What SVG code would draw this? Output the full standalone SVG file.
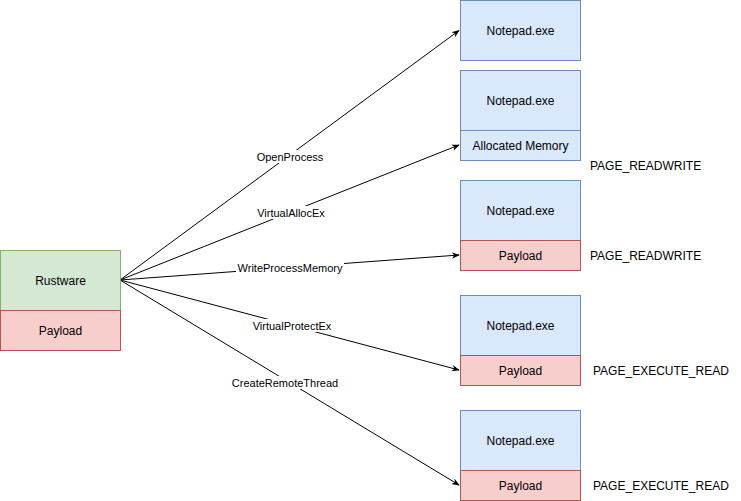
<svg xmlns="http://www.w3.org/2000/svg" width="741" height="501" viewBox="0 0 741 501">
<defs>
<style>
.blue{fill:#dae8fc;stroke:#6c8ebf;stroke-width:1}
.red{fill:#f8cecc;stroke:#b85450;stroke-width:1}
.green{fill:#d5e8d4;stroke:#82b366;stroke-width:1}
text{font-family:"Liberation Sans",Arial,Helvetica,sans-serif;fill:#000}
.n{font-size:12px;text-anchor:middle;dominant-baseline:central}
.l{font-size:11px;text-anchor:middle;dominant-baseline:central}
.p{font-size:12px;dominant-baseline:central}
.e{fill:none;stroke:#000;stroke-width:1}
.bg{fill:#fff}
</style>
<marker id="ah" viewBox="0 0 10 10" refX="9" refY="5" markerWidth="8" markerHeight="8" orient="auto" markerUnits="userSpaceOnUse">
<path d="M0,1 L10,5 L0,9 L3,5 Z" fill="#000"/>
</marker>
</defs>
<rect width="741" height="501" fill="#fff"/>
<g id="connectors">
<line class="e" x1="120" y1="280" x2="459" y2="30.5" marker-end="url(#ah)"/>
<line class="e" x1="120" y1="280" x2="459" y2="145" marker-end="url(#ah)"/>
<line class="e" x1="120" y1="280" x2="459" y2="255" marker-end="url(#ah)"/>
<line class="e" x1="120" y1="280" x2="459" y2="370" marker-end="url(#ah)"/>
<line class="e" x1="120" y1="280" x2="459" y2="485" marker-end="url(#ah)"/>
<rect class="bg" x="257" y="150" width="66" height="13"/>
<text class="l" x="290" y="156.5">OpenProcess</text>
<rect class="bg" x="256" y="206" width="70" height="13"/>
<text class="l" x="291" y="212.5">VirtualAllocEx</text>
<rect class="bg" x="236" y="261" width="108" height="13"/>
<text class="l" x="290" y="267.5">WriteProcessMemory</text>
<rect class="bg" x="251" y="319" width="82" height="13"/>
<text class="l" x="292" y="325.5">VirtualProtectEx</text>
<rect class="bg" x="236" y="376" width="98" height="13"/>
<text class="l" x="285" y="382.5">CreateRemoteThread</text>
</g>
<g id="rustware">
<rect class="green" x="0.5" y="250.5" width="120" height="60"/>
<text class="n" x="60.5" y="280.5">Rustware</text>
</g>
<g id="rustware-payload">
<rect class="red" x="0.5" y="310.5" width="120" height="40"/>
<text class="n" x="60.5" y="330.5">Payload</text>
</g>
<g id="notepad1">
<rect class="blue" x="460.5" y="0.5" width="120" height="60"/>
<text class="n" x="520.5" y="30.5">Notepad.exe</text>
</g>
<g id="notepad2">
<rect class="blue" x="460.5" y="70.5" width="120" height="60"/>
<text class="n" x="520.5" y="100.5">Notepad.exe</text>
<rect class="blue" x="460.5" y="130.5" width="120" height="30"/>
<text class="n" x="520.5" y="145.5">Allocated Memory</text>
<text class="p" x="590" y="165.5">PAGE_READWRITE</text>
</g>
<g id="notepad3">
<rect class="blue" x="460.5" y="180.5" width="120" height="60"/>
<text class="n" x="520.5" y="210.5">Notepad.exe</text>
<rect class="red" x="460.5" y="240.5" width="120" height="30"/>
<text class="n" x="520.5" y="255.5">Payload</text>
<text class="p" x="590" y="255.5">PAGE_READWRITE</text>
</g>
<g id="notepad4">
<rect class="blue" x="460.5" y="295.5" width="120" height="60"/>
<text class="n" x="520.5" y="325.5">Notepad.exe</text>
<rect class="red" x="460.5" y="355.5" width="120" height="30"/>
<text class="n" x="520.5" y="370.5">Payload</text>
<text class="p" x="593" y="370.5">PAGE_EXECUTE_READ</text>
</g>
<g id="notepad5">
<rect class="blue" x="460.5" y="410.5" width="120" height="60"/>
<text class="n" x="520.5" y="440.5">Notepad.exe</text>
<rect class="red" x="460.5" y="470.5" width="120" height="30"/>
<text class="n" x="520.5" y="485.5">Payload</text>
<text class="p" x="593" y="485.5">PAGE_EXECUTE_READ</text>
</g>
</svg>
